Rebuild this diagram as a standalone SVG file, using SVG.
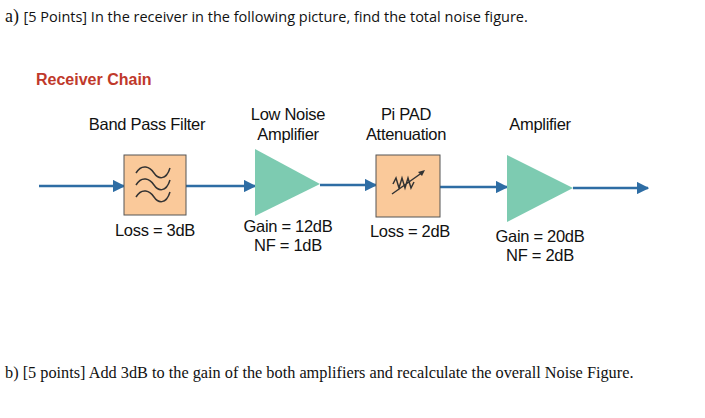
<svg xmlns="http://www.w3.org/2000/svg" width="705" height="418" viewBox="0 0 705 418">
<style>
.t{font-family:"Liberation Sans",Arial,sans-serif;font-size:16.5px;fill:#111;letter-spacing:-0.3px}
.box{fill:#fac99a;stroke:#555;stroke-width:1}
.amp{fill:#7dcbb1}
.ln{stroke:#2e6da4;stroke-width:2.5;fill:none;marker-end:url(#ah)}
.sym{fill:none;stroke:#333;stroke-width:1.5}
</style>
<defs><marker id="ah" viewBox="0 0 10 10" refX="9" refY="5" markerWidth="5" markerHeight="5" orient="auto"><path d="M0,0L10,5L0,10z" fill="#2e6da4"/></marker></defs>
<rect width="705" height="418" fill="#fff"/>
<text x="5" y="22" font-family="Liberation Serif,serif" font-size="18" fill="#111">a) <tspan font-family="Open Sans,Liberation Sans,sans-serif" font-size="14.5">[5 Points] In the receiver in the following picture, find the total noise figure.</tspan></text>
<text x="36" y="85" font-family="Liberation Sans,Arial,sans-serif" font-size="16" font-weight="bold" fill="#c0392b">Receiver Chain</text>
<g id="connectors">
<line class="ln" x1="39" y1="186" x2="124" y2="186"/>
<line class="ln" x1="186" y1="186" x2="255" y2="186"/>
<line class="ln" x1="320" y1="185" x2="376" y2="185"/>
<line class="ln" x1="440" y1="187" x2="507" y2="187"/>
<line class="ln" x1="573" y1="188" x2="648" y2="188"/>
</g>
<g id="bpf">
<text class="t" x="147" y="130" text-anchor="middle">Band Pass Filter</text>
<rect class="box" x="124" y="155" width="62" height="60"/>
<path class="sym" d="M136,173c6,-10 14,-6 18,0s12,8 16,-5M136,185c6,-10 14,-6 18,0s12,8 16,-5M136,197c6,-10 14,-6 18,0s12,8 16,-5"/>
<text class="t" x="155" y="236" text-anchor="middle">Loss = 3dB</text>
</g>
<g id="lna">
<text class="t" x="288" y="120" text-anchor="middle">Low Noise</text>
<text class="t" x="288" y="140" text-anchor="middle">Amplifier</text>
<path class="amp" d="M255,149L320,184L255,216z"/>
<text class="t" x="288" y="232" text-anchor="middle">Gain = 12dB</text>
<text class="t" x="288" y="251" text-anchor="middle">NF = 1dB</text>
</g>
<g id="pad">
<text class="t" x="406" y="120" text-anchor="middle">Pi PAD</text>
<text class="t" x="406" y="140" text-anchor="middle">Attenuation</text>
<rect class="box" x="376" y="155" width="64" height="62"/>
<path class="sym" d="M393,184l3,-6 3,10 3,-10 3,10 3,-10 3,10 3,-6M392,194L423,172"/>
<path d="M425,170l-7,2 4,4z" fill="#333"/>
<text class="t" x="410" y="237" text-anchor="middle">Loss = 2dB</text>
</g>
<g id="amp">
<text class="t" x="540" y="130" text-anchor="middle">Amplifier</text>
<path class="amp" d="M507,155L573,188L507,222z"/>
<text class="t" x="540" y="242" text-anchor="middle">Gain = 20dB</text>
<text class="t" x="540" y="261" text-anchor="middle">NF = 2dB</text>
</g>
<text x="5" y="378" font-family="Liberation Serif,serif" font-size="16.3" fill="#111">b) [5 points] Add 3dB to the gain of the both amplifiers and recalculate the overall Noise Figure.</text>
</svg>
